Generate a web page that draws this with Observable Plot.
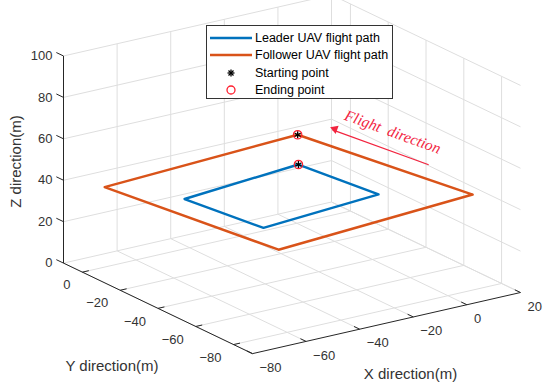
<!DOCTYPE html>
<html><head><meta charset="utf-8">
<script src="https://cdn.jsdelivr.net/npm/d3@7"></script>
<script src="https://cdn.jsdelivr.net/npm/@observablehq/plot@0.6"></script>
<style>
body{margin:0;background:#fff;}
#wrap{position:relative;width:550px;height:385px;overflow:hidden;background:#fff;}
#legend{position:absolute;left:206px;top:25px;width:185px;height:72px;border:1px solid #333;background:#fff;font-family:"Liberation Sans",Arial,Helvetica,sans-serif;font-size:12.5px;color:#000;}
#legend .row{position:absolute;left:0;height:16px;width:185px;}
#legend svg{position:absolute;left:0;top:0;}
#legend span{position:absolute;left:48px;top:0;line-height:16px;white-space:nowrap;}
</style></head>
<body><div id="wrap"></div>
<script>
// ---------------- data ----------------
const xTicks = [-80, -60, -40, -20, 0, 20];
const yTicks = [0, -20, -40, -60, -80];
const zTicks = [0, 20, 40, 60, 80, 100];
const xLim = [-80, 20];
const yLim = [-90, 10];
const zLim = [0, 100];

// Leader UAV flight path (start at top vertex)
const leaderX = [-12.3, -59.3, -54.6, -7.8, -12.3];
const leaderY = [-18.3, -24.7, -59.8, -54.3, -18.3];
const leaderZ = [40, 40, 40, 40, 40];
// Follower UAV flight path
const followerX = [3.2, -73.2, -62.3, 15.9, 3.2];
const followerY = [4.1, -2.1, -78.7, -70.5, 4.1];
const followerZ = [40, 40, 40, 40, 40];

const seriesNames = ["Leader UAV flight path", "Follower UAV flight path", "Starting point", "Ending point"];
const axisTitles = {x: "X direction(m)", y: "Y direction(m)", z: "Z direction(m)"};
const annotationText = "Flight  direction";
const arrowFrom = [20.5, -40.7, 40];
const arrowTo = [14.6, 1.8, 40];
const annotationAt = [28.7, -10, 40];

// ---------------- view ----------------
const view = {az: -34.6, el: 19.3, aspect: [1, 1.022, 0.674], pxPerUnit: 325.6, center: [291.5, 173.75]};
const W = 550, H = 385;
const colors = {leader: "#0072BD", follower: "#D95319", axis: "#262626", grid: "#dedede", tick: "#333333", red: "#ff1f2f", note: "#f2243f"};

function proj([X, Y, Z]) {
  const a = view.az * Math.PI / 180, e = view.el * Math.PI / 180;
  const xn = ((X - xLim[0]) / (xLim[1] - xLim[0]) - 0.5) * view.aspect[0];
  const yn = ((Y - yLim[0]) / (yLim[1] - yLim[0]) - 0.5) * view.aspect[1];
  const zn = ((Z - zLim[0]) / (zLim[1] - zLim[0]) - 0.5) * view.aspect[2];
  return {
    u: Math.cos(a) * xn + Math.sin(a) * yn,
    w: -Math.sin(a) * Math.sin(e) * xn + Math.cos(a) * Math.sin(e) * yn + Math.cos(e) * zn
  };
}
const segOf = (p, q, extra = {}) => { const A = proj(p), B = proj(q); return {x1: A.u, y1: A.w, x2: B.u, y2: B.w, ...extra}; };

// grid
const grid = [];
for (const x of xTicks) grid.push(segOf([x, yLim[1], zLim[0]], [x, yLim[1], zLim[1]]));
for (const z of zTicks) grid.push(segOf([xLim[0], yLim[1], z], [xLim[1], yLim[1], z]));
for (const y of yTicks) grid.push(segOf([xLim[1], y, zLim[0]], [xLim[1], y, zLim[1]]));
for (const z of zTicks) grid.push(segOf([xLim[1], yLim[0], z], [xLim[1], yLim[1], z]));
for (const x of xTicks) grid.push(segOf([x, yLim[0], zLim[0]], [x, yLim[1], zLim[0]]));
for (const y of yTicks) grid.push(segOf([xLim[0], y, zLim[0]], [xLim[1], y, zLim[0]]));

// axis lines
const axes = [
  segOf([xLim[0], yLim[1], zLim[0]], [xLim[0], yLim[1], zLim[1]]),
  segOf([xLim[0], yLim[1], zLim[0]], [xLim[0], yLim[0], zLim[0]]),
  segOf([xLim[0], yLim[0], zLim[0]], [xLim[1], yLim[0], zLim[0]])
];
// tick marks
const ticks = [];
for (const z of zTicks) ticks.push(segOf([xLim[0], yLim[1], z], [xLim[0], yLim[1] + 3.8, z]));
for (const y of yTicks) ticks.push(segOf([xLim[0], y, zLim[0]], [xLim[0] + 2.4, y, zLim[0]]));
for (const x of xTicks) ticks.push(segOf([x, yLim[0], zLim[0]], [x, yLim[0] + 3, zLim[0]]));

const fmt = v => (v < 0 ? "\u2212" + Math.abs(v) : String(v));
const zLabels = zTicks.map(z => ({...proj([xLim[0], yLim[1], z]), t: fmt(z)}));
const yLabels = yTicks.map(y => ({...proj([xLim[0], y, zLim[0]]), t: fmt(y)}));
const xLabels = xTicks.map(x => ({...proj([x, yLim[0], zLim[0]]), t: fmt(x)}));

const leader = leaderX.map((x, i) => proj([x, leaderY[i], leaderZ[i]]));
const follower = followerX.map((x, i) => proj([x, followerY[i], followerZ[i]]));
const starts = [leader[0], follower[0]];
const ends = [leader[leader.length - 1], follower[follower.length - 1]];

const aF = proj(arrowFrom), aT = proj(arrowTo);
const k = view.pxPerUnit;
const ang = Math.atan2(-(aT.w - aF.w) * k, (aT.u - aF.u) * k); // screen angle
const headRot = ang * 180 / Math.PI + 90;
const textRot = ang * 180 / Math.PI + 180;
const headBack = 2.4;

const xDom = [-view.center[0] / k, (W - view.center[0]) / k];
const yDom = [(view.center[1] - H) / k, view.center[1] / k];
const mid = (p, q) => proj(p.map((v, i) => (v + q[i]) / 2));
const zMid = proj([xLim[0], yLim[1], (zLim[0] + zLim[1]) / 2]);
const yMid = proj([xLim[0], (yLim[0] + yLim[1]) / 2, zLim[0]]);
const xMid = proj([(xLim[0] + xLim[1]) / 2, yLim[0], zLim[0]]);
const note = proj(annotationAt);

const font = "Liberation Sans, Arial, Helvetica, sans-serif";
const chart = Plot.plot({
  width: W, height: H, margin: 0,
  x: {domain: xDom, axis: null},
  y: {domain: yDom, axis: null},
  style: {background: "#fff"},
  marks: [
    Plot.link(grid, {x1: "x1", y1: "y1", x2: "x2", y2: "y2", stroke: colors.grid, strokeWidth: 1}),
    Plot.link(axes, {x1: "x1", y1: "y1", x2: "x2", y2: "y2", stroke: colors.axis, strokeWidth: 1}),
    Plot.link(ticks, {x1: "x1", y1: "y1", x2: "x2", y2: "y2", stroke: colors.axis, strokeWidth: 1}),
    Plot.text(zLabels, {x: "u", y: "w", text: "t", textAnchor: "end", dx: -11, dy: 0, fontSize: 13, fill: colors.tick, fontFamily: font}),
    Plot.text(yLabels, {x: "u", y: "w", text: "t", textAnchor: "end", dx: -12, dy: 13, fontSize: 13, fill: colors.tick, fontFamily: font}),
    Plot.text(xLabels, {x: "u", y: "w", text: "t", textAnchor: "start", dx: 7, dy: 14, fontSize: 13, fill: colors.tick, fontFamily: font}),
    Plot.text([zMid], {x: "u", y: "w", text: [axisTitles.z], rotate: -90, dx: -47, dy: 2, fontSize: 15, fill: colors.tick, fontFamily: font}),
    Plot.text([yMid], {x: "u", y: "w", text: [axisTitles.y], dx: -46, dy: 58, fontSize: 15, fill: colors.tick, fontFamily: font}),
    Plot.text([xMid], {x: "u", y: "w", text: [axisTitles.x], dx: 24, dy: 51, fontSize: 15, fill: colors.tick, fontFamily: font}),
    Plot.line(leader, {x: "u", y: "w", stroke: colors.leader, strokeWidth: 2.4}),
    Plot.line(follower, {x: "u", y: "w", stroke: colors.follower, strokeWidth: 2.4}),
    Plot.dot(starts, {x: "u", y: "w", symbol: "asterisk", r: 3.4, stroke: "#000", strokeWidth: 1.3}),
    Plot.dot(ends, {x: "u", y: "w", symbol: "circle", r: 4.2, stroke: colors.red, strokeWidth: 1.2, fill: "none"}),
    Plot.link([{x1: aF.u, y1: aF.w, x2: aT.u, y2: aT.w}], {x1: "x1", y1: "y1", x2: "x2", y2: "y2", stroke: colors.note, strokeWidth: 1.2}),
    Plot.dot([aT], {x: "u", y: "w", symbol: "triangle", r: 3.2, fill: colors.note, stroke: "none", rotate: headRot,
      dx: -Math.cos(ang) * headBack, dy: Math.sin(ang) * headBack}),
    Plot.text([note], {x: "u", y: "w", text: [annotationText], rotate: textRot, fontSize: 15.5, fontStyle: "italic",
      fontFamily: "Liberation Serif, Times New Roman, serif", fill: colors.note})
  ]
});
const wrap = document.getElementById("wrap");
wrap.appendChild(chart);

// legend (MATLAB-style box inside the axes)
const legend = document.createElement("div");
legend.id = "legend";
const sw = [
  `<line x1="3" y1="8" x2="45" y2="8" stroke="${colors.leader}" stroke-width="2.5"/>`,
  `<line x1="3" y1="8" x2="45" y2="8" stroke="${colors.follower}" stroke-width="2.5"/>`,
  `<g stroke="#000" stroke-width="1.3"><line x1="24" y1="4.5" x2="24" y2="11.5"/><line x1="20.5" y1="8" x2="27.5" y2="8"/><line x1="21.5" y1="5.5" x2="26.5" y2="10.5"/><line x1="21.5" y1="10.5" x2="26.5" y2="5.5"/></g>`,
  `<circle cx="24" cy="8" r="4" fill="none" stroke="${colors.red}" stroke-width="1.3"/>`
];
seriesNames.forEach((name, i) => {
  const row = document.createElement("div");
  row.className = "row";
  row.style.top = (4 + i * 17.3) + "px";
  row.innerHTML = `<svg width="48" height="16">${sw[i]}</svg><span>${name}</span>`;
  legend.appendChild(row);
});
wrap.appendChild(legend);
</script>
</body></html>
